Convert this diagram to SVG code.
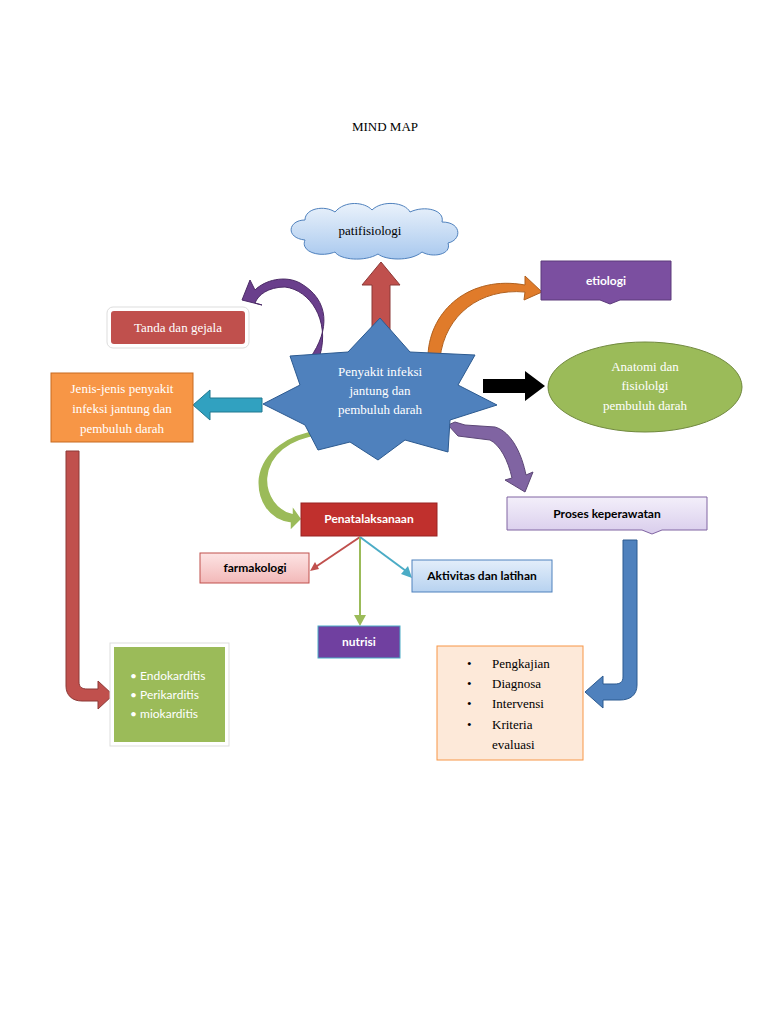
<svg xmlns="http://www.w3.org/2000/svg" width="768" height="1024" viewBox="0 0 768 1024">
<style>
.serif{font-family:"Liberation Serif","DejaVu Serif",serif;font-size:13px}
.sans{font-family:Lato,"Liberation Sans",sans-serif;font-size:12px;font-weight:bold}
.w{fill:#fff}
.k{fill:#000}
</style>
<defs>
<linearGradient id="lav" x1="0" y1="0" x2="0" y2="1"><stop offset="0" stop-color="#f3effa"/><stop offset="1" stop-color="#d9cdec"/></linearGradient>
<linearGradient id="cloud" x1="0" y1="0" x2="0" y2="1"><stop offset="0" stop-color="#eaf2fb"/><stop offset="1" stop-color="#a8c8ee"/></linearGradient>
<linearGradient id="blue" x1="0" y1="0" x2="0" y2="1"><stop offset="0" stop-color="#e3eefa"/><stop offset="1" stop-color="#b7d2f0"/></linearGradient>
<linearGradient id="pink" x1="0" y1="0" x2="0" y2="1"><stop offset="0" stop-color="#fde4e4"/><stop offset="1" stop-color="#f2b8b8"/></linearGradient>
</defs>
<text x="385" y="131" class="serif k" text-anchor="middle">MIND MAP</text>

<g id="connectors">
<path d="M372,335 V285 H362 L381,262 L400,285 H390 V335 Z" fill="#c0504d" stroke="#8c3836"/>
<path d="M320,355 C330,320 310,290 285,287 C268,287 258,295 255,303 L262,305 L242,300 L250,280 L255,290 C265,280 285,275 300,283 C330,300 330,330 310,358 Z" fill="#6a3f8c" stroke="#4b2a66"/>
<path d="M428,355 C430,310 470,275 525,285 L525,276 L542,292 L524,300 L525,292 C480,288 445,315 440,358 Z" fill="#e07b2a" stroke="#b0601e"/>
<path d="M262,398 V412 H210 V420 L193,405 L210,390 V398 Z" fill="#31a1c0" stroke="#217890"/>
<path d="M483,379 H525 V371 L545,386 L525,401 V393 H483 Z" fill="#000"/>
<path d="M448,425 L458,436 L490,440 C500,445 508,460 512,478 L505,480 L525,492 L533,472 L526,475 C522,455 512,432 495,427 L465,425 L455,422 Z" fill="#8064a2" stroke="#5c4776" stroke-width="1"/>
<path d="M318,436 C290,440 270,455 268,478 C267,495 278,510 292,513 L292,505 L302,519 L290,531 L290,523 C268,520 256,500 258,478 C262,450 290,433 318,430 Z" fill="#9bbb59" stroke="#fff" stroke-width="1.5"/>
<path d="M623,540 H637 V685 C637,695 630,700 620,700 H603 V708 L585,692 L603,676 V684 H615 C620,684 623,682 623,677 Z" fill="#4f81bd" stroke="#2c5a90"/>
<path d="M66,451 H79 V682 C79,687 82,689 87,689 H98 V681 L113,695 L98,709 V701 H82 C72,701 66,695 66,686 Z" fill="#c0504d" stroke="#8c3836"/>
<g stroke-width="2">
<line x1="360" y1="537" x2="314" y2="568" stroke="#c0504d"/>
<path d="M310,571 L315,562 L319,569 Z" fill="#c0504d"/>
<line x1="360" y1="537" x2="360" y2="618" stroke="#9bbb59"/>
<path d="M354,615 L360,626 L366,615 Z" fill="#9bbb59"/>
<line x1="360" y1="537" x2="406" y2="571" stroke="#4bacc6"/>
<path d="M412,578 L401,574 L408,566 Z" fill="#4bacc6"/>
</g>
</g>

<g id="cloud-patifisiologi">
<path d="M305,240 C285,238 288,220 305,220 C305,208 325,205 335,212 C345,200 365,202 372,210 C382,200 405,202 410,212 C425,205 445,210 442,222 C462,222 462,240 448,243 C452,255 432,258 422,252 C410,262 385,260 378,254 C365,262 340,260 335,252 C320,258 300,252 305,240 Z" fill="url(#cloud)" stroke="#4f81bd"/>
<text x="370" y="235" class="serif k" text-anchor="middle">patifisiologi</text>
</g>

<g id="star">
<polygon points="380,318 410,352 475,355 458,385 497,405 450,420 448,452 405,440 378,460 350,442 318,450 305,425 263,404 300,385 290,356 348,352" fill="#4f81bd" stroke="#2c5a90"/>
<text class="serif w" text-anchor="middle"><tspan x="380" y="376">Penyakit infeksi</tspan><tspan x="380" y="395">jantung dan</tspan><tspan x="380" y="414">pembuluh darah</tspan></text>
</g>

<g id="etiologi">
<path d="M541,261 H671 V300 H620 L610,304 L600,300 H541 Z" fill="#7b4fa0" stroke="#5c3a7a"/>
<text x="606" y="285" class="sans w" text-anchor="middle">etiologi</text>
</g>

<g id="tanda">
<rect x="107" y="307" width="142" height="41" rx="6" fill="#fff" stroke="#ddd"/>
<rect x="111" y="311" width="134" height="33" rx="3" fill="#c0504d"/>
<text x="178" y="332" class="serif w" text-anchor="middle">Tanda dan gejala</text>
</g>

<g id="jenis">
<rect x="51" y="373" width="142" height="69" fill="#f79646" stroke="#c76a20"/>
<text class="serif w" text-anchor="middle"><tspan x="122" y="393">Jenis-jenis penyakit</tspan><tspan x="122" y="413">infeksi jantung dan</tspan><tspan x="122" y="433">pembuluh darah</tspan></text>
</g>

<g id="anatomi">
<ellipse cx="645" cy="387" rx="97" ry="45" fill="#9bbb59" stroke="#71893f"/>
<text class="serif w" text-anchor="middle"><tspan x="645" y="371">Anatomi dan</tspan><tspan x="645" y="390">fisiololgi</tspan><tspan x="645" y="410">pembuluh darah</tspan></text>
</g>

<g id="proses">
<path d="M507,497 H707 V530 H662 L652,534 L642,530 H507 Z" fill="url(#lav)" stroke="#8064a2"/>
<text x="607" y="518" class="sans k" text-anchor="middle">Proses keperawatan</text>
</g>

<g id="penatalaksanaan">
<rect x="301" y="503" width="136" height="33" fill="#c0302d" stroke="#922"/>
<text x="369" y="523" class="sans w" text-anchor="middle">Penatalaksanaan</text>
</g>

<g id="farmakologi">
<rect x="200" y="553" width="109" height="30" fill="url(#pink)" stroke="#c0504d"/>
<text x="255" y="572" class="sans k" text-anchor="middle">farmakologi</text>
</g>

<g id="aktivitas">
<rect x="412" y="560" width="140" height="32" fill="url(#blue)" stroke="#4f81bd"/>
<text x="482" y="580" class="sans k" text-anchor="middle">Aktivitas dan latihan</text>
</g>

<g id="nutrisi">
<rect x="318" y="626" width="82" height="32" fill="#7040a0" stroke="#4bacc6"/>
<text x="359" y="646" class="sans w" text-anchor="middle">nutrisi</text>
</g>

<g id="jenis-list">
<rect x="110" y="643" width="119" height="103" fill="#fff" stroke="#ddd"/>
<rect x="114" y="647" width="111" height="95" fill="#9bbb59"/>
<text class="sans w" style="font-weight:normal;font-size:12px"><tspan x="130" y="680">• Endokarditis</tspan><tspan x="130" y="699">• Perikarditis</tspan><tspan x="130" y="718">• miokarditis</tspan></text>
</g>

<g id="proses-list">
<rect x="437" y="646" width="146" height="114" fill="#fde9d9" stroke="#f79646"/>
<text class="serif k"><tspan x="467" y="668">•</tspan><tspan x="467" y="688">•</tspan><tspan x="467" y="708">•</tspan><tspan x="467" y="729">•</tspan></text>
<text class="serif k"><tspan x="492" y="668">Pengkajian</tspan><tspan x="492" y="688">Diagnosa</tspan><tspan x="492" y="708">Intervensi</tspan><tspan x="492" y="729">Kriteria</tspan><tspan x="492" y="749">evaluasi</tspan></text>
</g>
</svg>
